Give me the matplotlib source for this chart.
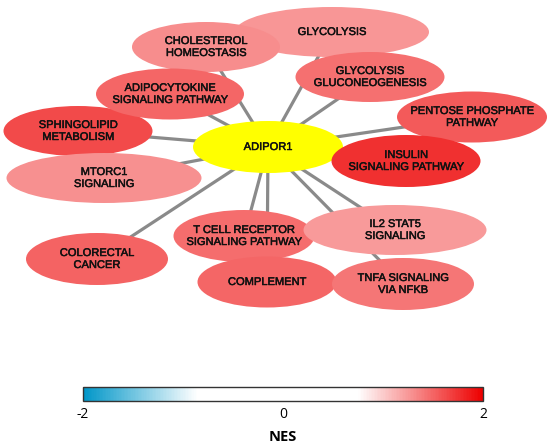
import matplotlib
matplotlib.use("Agg")
import matplotlib.pyplot as plt
from matplotlib.patches import Ellipse
from matplotlib.colors import LinearSegmentedColormap, Normalize
from matplotlib.cm import ScalarMappable
import matplotlib.patheffects as pe
import numpy as np

# ---- data ----
hub = "ADIPOR1"
pathways = [
    "GLYCOLYSIS",
    "CHOLESTEROL\nHOMEOSTASIS",
    "GLYCOLYSIS\nGLUCONEOGENESIS",
    "SPHINGOLIPID\nMETABOLISM",
    "ADIPOCYTOKINE\nSIGNALING PATHWAY",
    "MTORC1\nSIGNALING",
    "PENTOSE PHOSPHATE\nPATHWAY",
    "INSULIN\nSIGNALING PATHWAY",
    "COLORECTAL\nCANCER",
    "T CELL RECEPTOR\nSIGNALING PATHWAY",
    "COMPLEMENT",
    "IL2 STAT5\nSIGNALING",
    "TNFA SIGNALING\nVIA NFKB",
]
nes = [1.26, 1.31, 1.44, 1.63, 1.49, 1.29, 1.56, 1.75, 1.51, 1.46, 1.49, 1.24, 1.41]
cbar_ticks = [-2, 0, 2]
cbar_label = "NES"

# ---- layout (pixel space of the 550x448 canvas): center x, center y, width, height ----
hub_layout = (268, 147, 150, 52)
layout = [
    (332, 32, 194, 50),
    (206, 47, 148, 50),
    (370, 77, 149, 50),
    (78, 131, 149, 50),
    (170, 94, 148, 51),
    (104, 178, 195, 50),
    (472, 117, 150, 51),
    (406, 161, 149, 52),
    (97, 259, 142, 52),
    (244, 236, 141, 52),
    (267, 282, 139, 51),
    (395, 230, 183, 50),
    (403, 284, 142, 52),
]

W, H = 550, 448
fig = plt.figure(figsize=(W / 100, H / 100), dpi=100)
ax = fig.add_axes([0, 0, 1, 1])
ax.set_xlim(0, W)
ax.set_ylim(H, 0)
ax.axis("off")

cmap = LinearSegmentedColormap.from_list(
    "nes",
    [(0.0, "#0096C8"), (0.285, "#ffffff"), (0.5, "#ffffff"), (0.6875, "#ffffff"), (1.0, "#ED0000")],
)
norm = Normalize(vmin=-2, vmax=2)

font = ["Liberation Sans", "DejaVu Sans"]
stroke = [pe.withStroke(linewidth=0.35, foreground="#111111")]
hx, hy, hw, hh = hub_layout

# edges
for (x, y, w, h) in layout:
    ax.plot([hx, x], [hy, y], color="#8a8a8a", lw=2.3, zorder=1, solid_capstyle="butt")

# nodes, drawn in stacking order
hub_index = 6  # hub drawn after the first six pathway nodes
z = 2
for i, (name, v, (x, y, w, h)) in enumerate(zip(pathways, nes, layout)):
    if i == hub_index:
        ax.add_patch(Ellipse((hx, hy), hw, hh, facecolor="#FFFF00", edgecolor="none", zorder=z))
        ax.text(hx, hy, hub, ha="center", va="center", fontsize=8, family=font,
                color="#111111", zorder=z + 0.5, path_effects=stroke)
        z += 1
    ax.add_patch(Ellipse((x, y), w, h, facecolor=cmap(norm(v)), edgecolor="none", zorder=z))
    ax.text(x, y, name, ha="center", va="center", fontsize=8, family=font,
            color="#111111", linespacing=1.25, zorder=z + 0.5, path_effects=stroke)
    z += 1

# colorbar
cax = fig.add_axes([83 / W, 1 - 401 / H, 400 / W, 14 / H])
sm = ScalarMappable(norm=norm, cmap=cmap)
cb = fig.colorbar(sm, cax=cax, orientation="horizontal", ticks=cbar_ticks)
cb.outline.set_edgecolor("#333333")
cb.outline.set_linewidth(1.0)
cax.tick_params(length=0, pad=4, labelsize=10)
cax.set_xticklabels([str(t) for t in cbar_ticks])
for t in cax.get_xticklabels():
    t.set_family(["Open Sans", "DejaVu Sans"])
fig.text(283 / W, 1 - 437 / H, cbar_label, ha="center", va="center", fontsize=10.5,
         fontweight="bold", family=["Open Sans", "DejaVu Sans"])

fig.savefig("out.png", dpi=100)
